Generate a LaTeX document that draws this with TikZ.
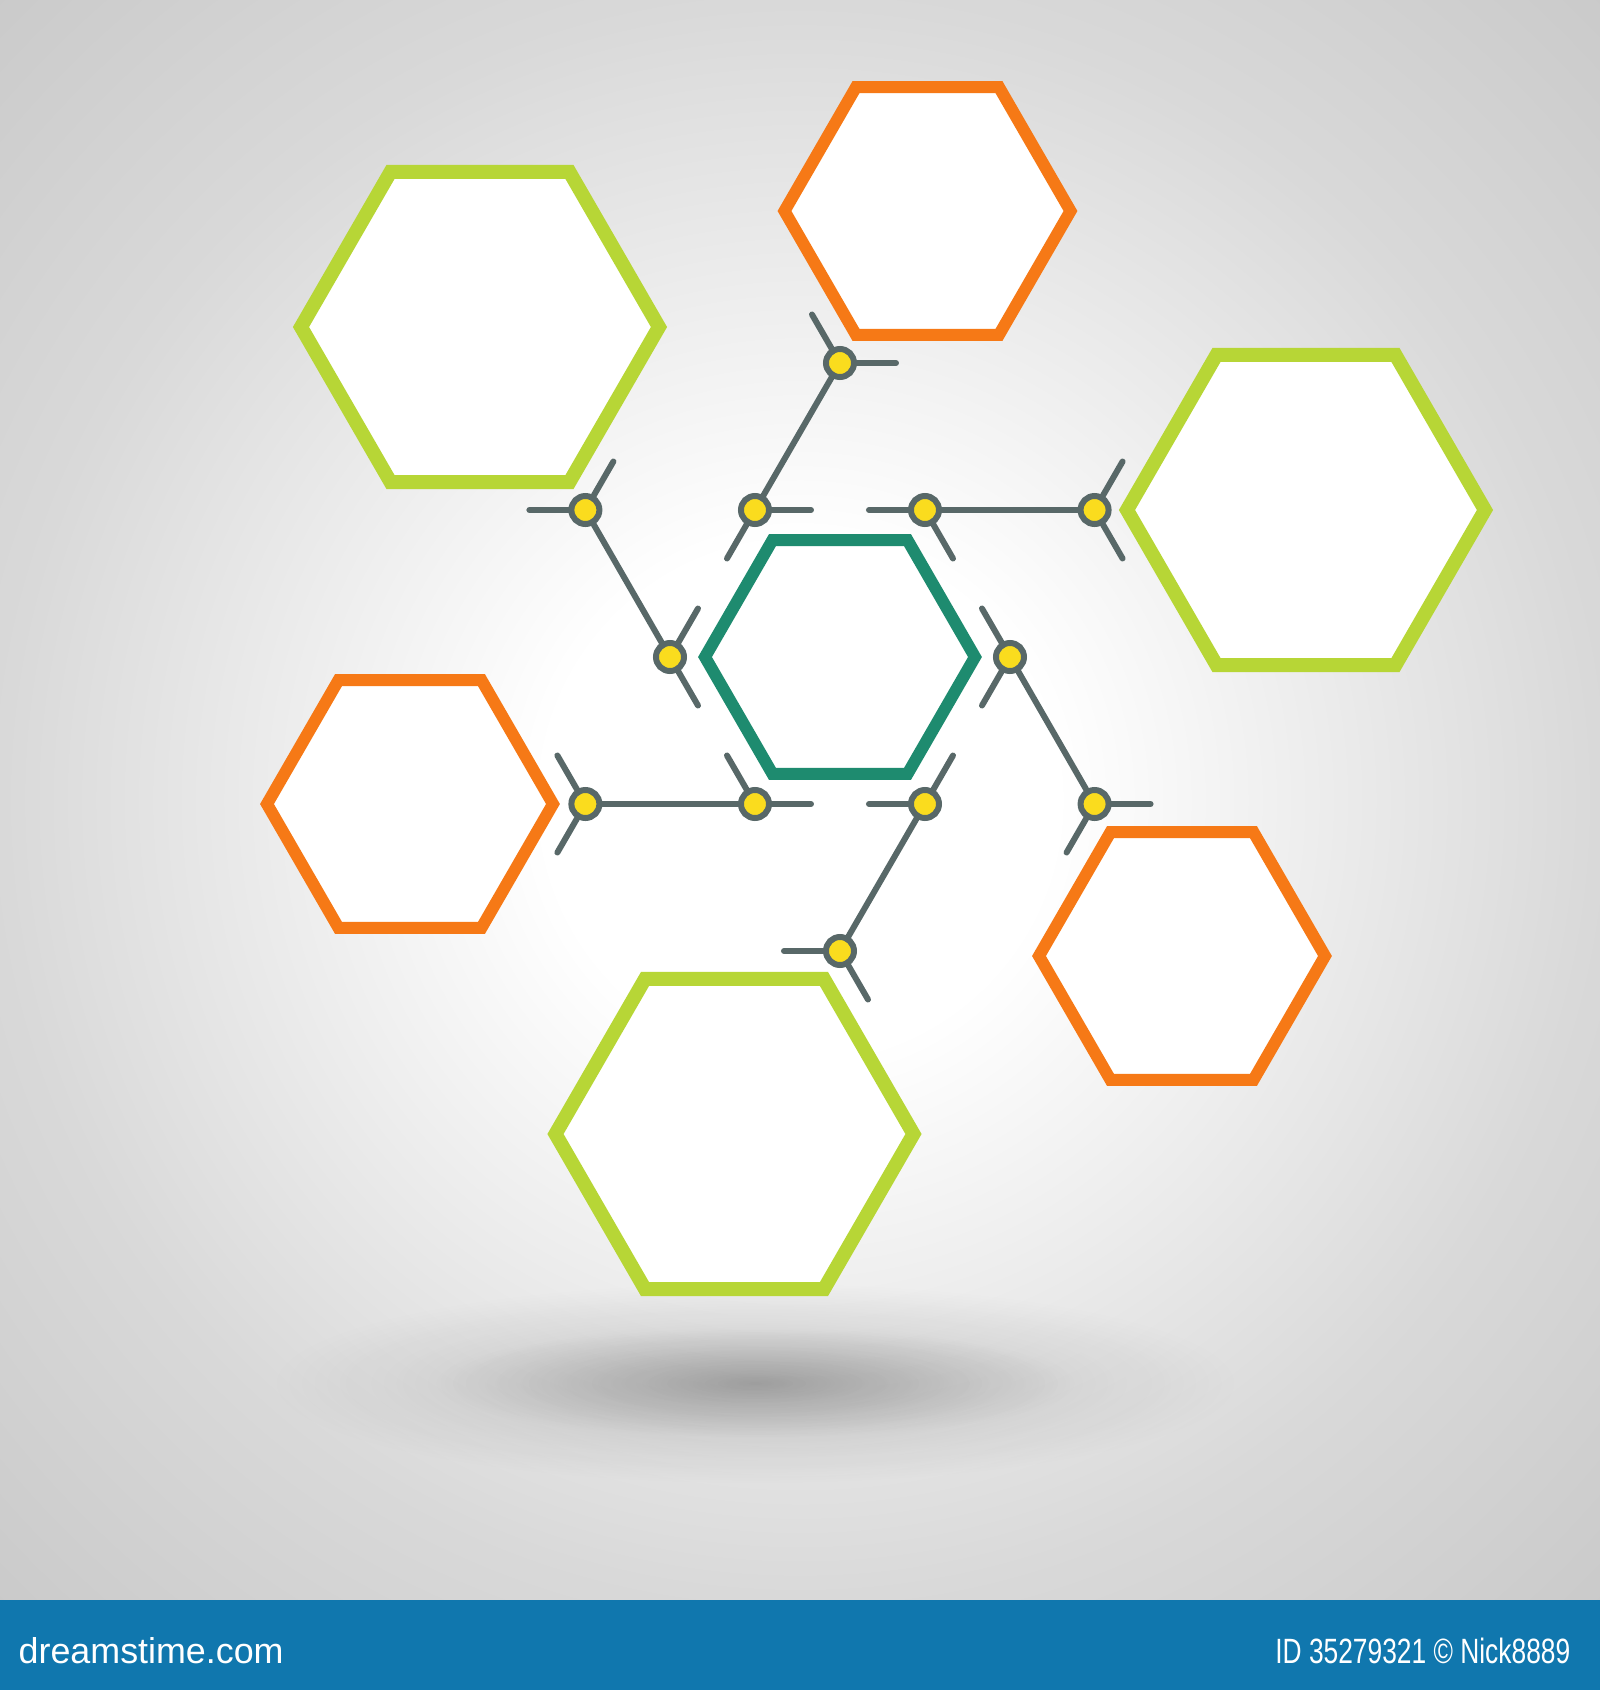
\documentclass[tikz,border=0pt]{standalone}
\usepackage{tikz}
\usetikzlibrary{shapes,arrows,positioning,calc,fit,backgrounds,fadings}
\usepackage{fontspec}
\newfontfamily\brandfont{Liberation Sans}
\newfontfamily\idfont[FakeStretch=0.75]{Liberation Sans}

\definecolor{hexgreen}{RGB}{183,214,54}
\definecolor{hexorange}{RGB}{246,121,22}
\definecolor{hubteal}{RGB}{30,139,111}
\definecolor{linkgray}{RGB}{88,104,104}
\definecolor{dotyellow}{RGB}{250,220,30}
\definecolor{barblue}{RGB}{16,119,174}

\tikzfading[name=softshadow, inner color=transparent!70, outer color=transparent!100]
\pgfdeclareradialshading{bgglow}{\pgfpoint{0bp}{0bp}}{color(0bp)=(white); color(8bp)=(white); color(25bp)=(gray!30); color(36bp)=(gray!42)}

\begin{document}
\begin{tikzpicture}[
    cell/.style={regular polygon, regular polygon sides=6, draw, fill=white, inner sep=0pt},
    greencell/.style={cell, draw=hexgreen, line width=0.14cm, minimum size=3.58cm},
    orangecell/.style={cell, draw=hexorange, line width=0.12cm, minimum size=2.86cm},
    hubcell/.style={cell, draw=hubteal, line width=0.12cm, minimum size=2.70cm},
    joint/.style={circle, draw=linkgray, fill=dotyellow, line width=0.06cm, minimum size=0.28cm, inner sep=0pt},
    link/.style={draw=linkgray, line width=0.06cm, line cap=round}
]

% BACKGROUND
\useasboundingbox (-8.40,-10.33) rectangle (7.60,6.57);
\shade[shading=bgglow] (-8.40,-9.43) rectangle (7.60,6.57);
\fill[black, fill opacity=0.55, path fading=softshadow] (-0.85,-7.26) ellipse (4.8 and 1.0);
\fill[black, fill opacity=0.6, path fading=softshadow] (-0.85,-7.26) ellipse (3.2 and 0.55);

% Hub
\node[hubcell] (hub) at (0, 0) {};

% Outer cells
\node[greencell] (cell_tl) at (-3.60, 3.30) {};
\node[orangecell] (cell_top) at (0.875, 4.46) {};
\node[greencell] (cell_r) at (4.66, 1.47) {};
\node[orangecell] (cell_br) at (3.42, -2.99) {};
\node[greencell] (cell_bot) at (-1.055, -4.77) {};
\node[orangecell] (cell_l) at (-4.30, -1.47) {};

% Joints next to the hub
\node[joint] (in1) at (1.70, 0) {};
\node[joint] (in2) at (0.85, 1.47) {};
\node[joint] (in3) at (-0.85, 1.47) {};
\node[joint] (in4) at (-1.70, 0) {};
\node[joint] (in5) at (-0.85, -1.47) {};
\node[joint] (in6) at (0.85, -1.47) {};

% Joints next to the cells
\node[joint] (out1) at (2.546, -1.47) {};
\node[joint] (out2) at (2.546, 1.47) {};
\node[joint] (out3) at (0, 2.94) {};
\node[joint] (out4) at (-2.546, 1.47) {};
\node[joint] (out5) at (-2.546, -1.47) {};
\node[joint] (out6) at (0, -2.94) {};

% Links
\draw[link] (in1) -- (out1);
\draw[link] (in2) -- (out2);
\draw[link] (in3) -- (out3);
\draw[link] (in4) -- (out4);
\draw[link] (in5) -- (out5);
\draw[link] (in6) -- (out6);

% Stubs round the hub
\draw[link] (in1) -- ++(120:0.56);
\draw[link] (in1) -- ++(240:0.56);
\draw[link] (in2) -- ++(180:0.56);
\draw[link] (in2) -- ++(300:0.56);
\draw[link] (in3) -- ++(240:0.56);
\draw[link] (in3) -- ++(0:0.56);
\draw[link] (in4) -- ++(300:0.56);
\draw[link] (in4) -- ++(60:0.56);
\draw[link] (in5) -- ++(0:0.56);
\draw[link] (in5) -- ++(120:0.56);
\draw[link] (in6) -- ++(60:0.56);
\draw[link] (in6) -- ++(180:0.56);

% Stubs at the cells
\draw[link] (out1) -- ++(0:0.56);
\draw[link] (out1) -- ++(240:0.56);
\draw[link] (out2) -- ++(60:0.56);
\draw[link] (out2) -- ++(300:0.56);
\draw[link] (out3) -- ++(120:0.56);
\draw[link] (out3) -- ++(0:0.56);
\draw[link] (out4) -- ++(180:0.56);
\draw[link] (out4) -- ++(60:0.56);
\draw[link] (out5) -- ++(240:0.56);
\draw[link] (out5) -- ++(120:0.56);
\draw[link] (out6) -- ++(300:0.56);
\draw[link] (out6) -- ++(180:0.56);

% BOTTOM BAR
\fill[barblue] (-8.40,-10.33) rectangle (7.60,-9.43);
\node[font=\brandfont\fontsize{10.2}{12}\selectfont, text=white, anchor=base west, inner sep=0pt] (brand) at (-8.22,-10.06) {dreamstime.com};
\node[font=\idfont\fontsize{10}{12}\selectfont, text=white, anchor=base east, inner sep=0pt] (stockid) at (7.31,-10.06) {ID 35279321 © Nick8889};

\end{tikzpicture}
\end{document}
